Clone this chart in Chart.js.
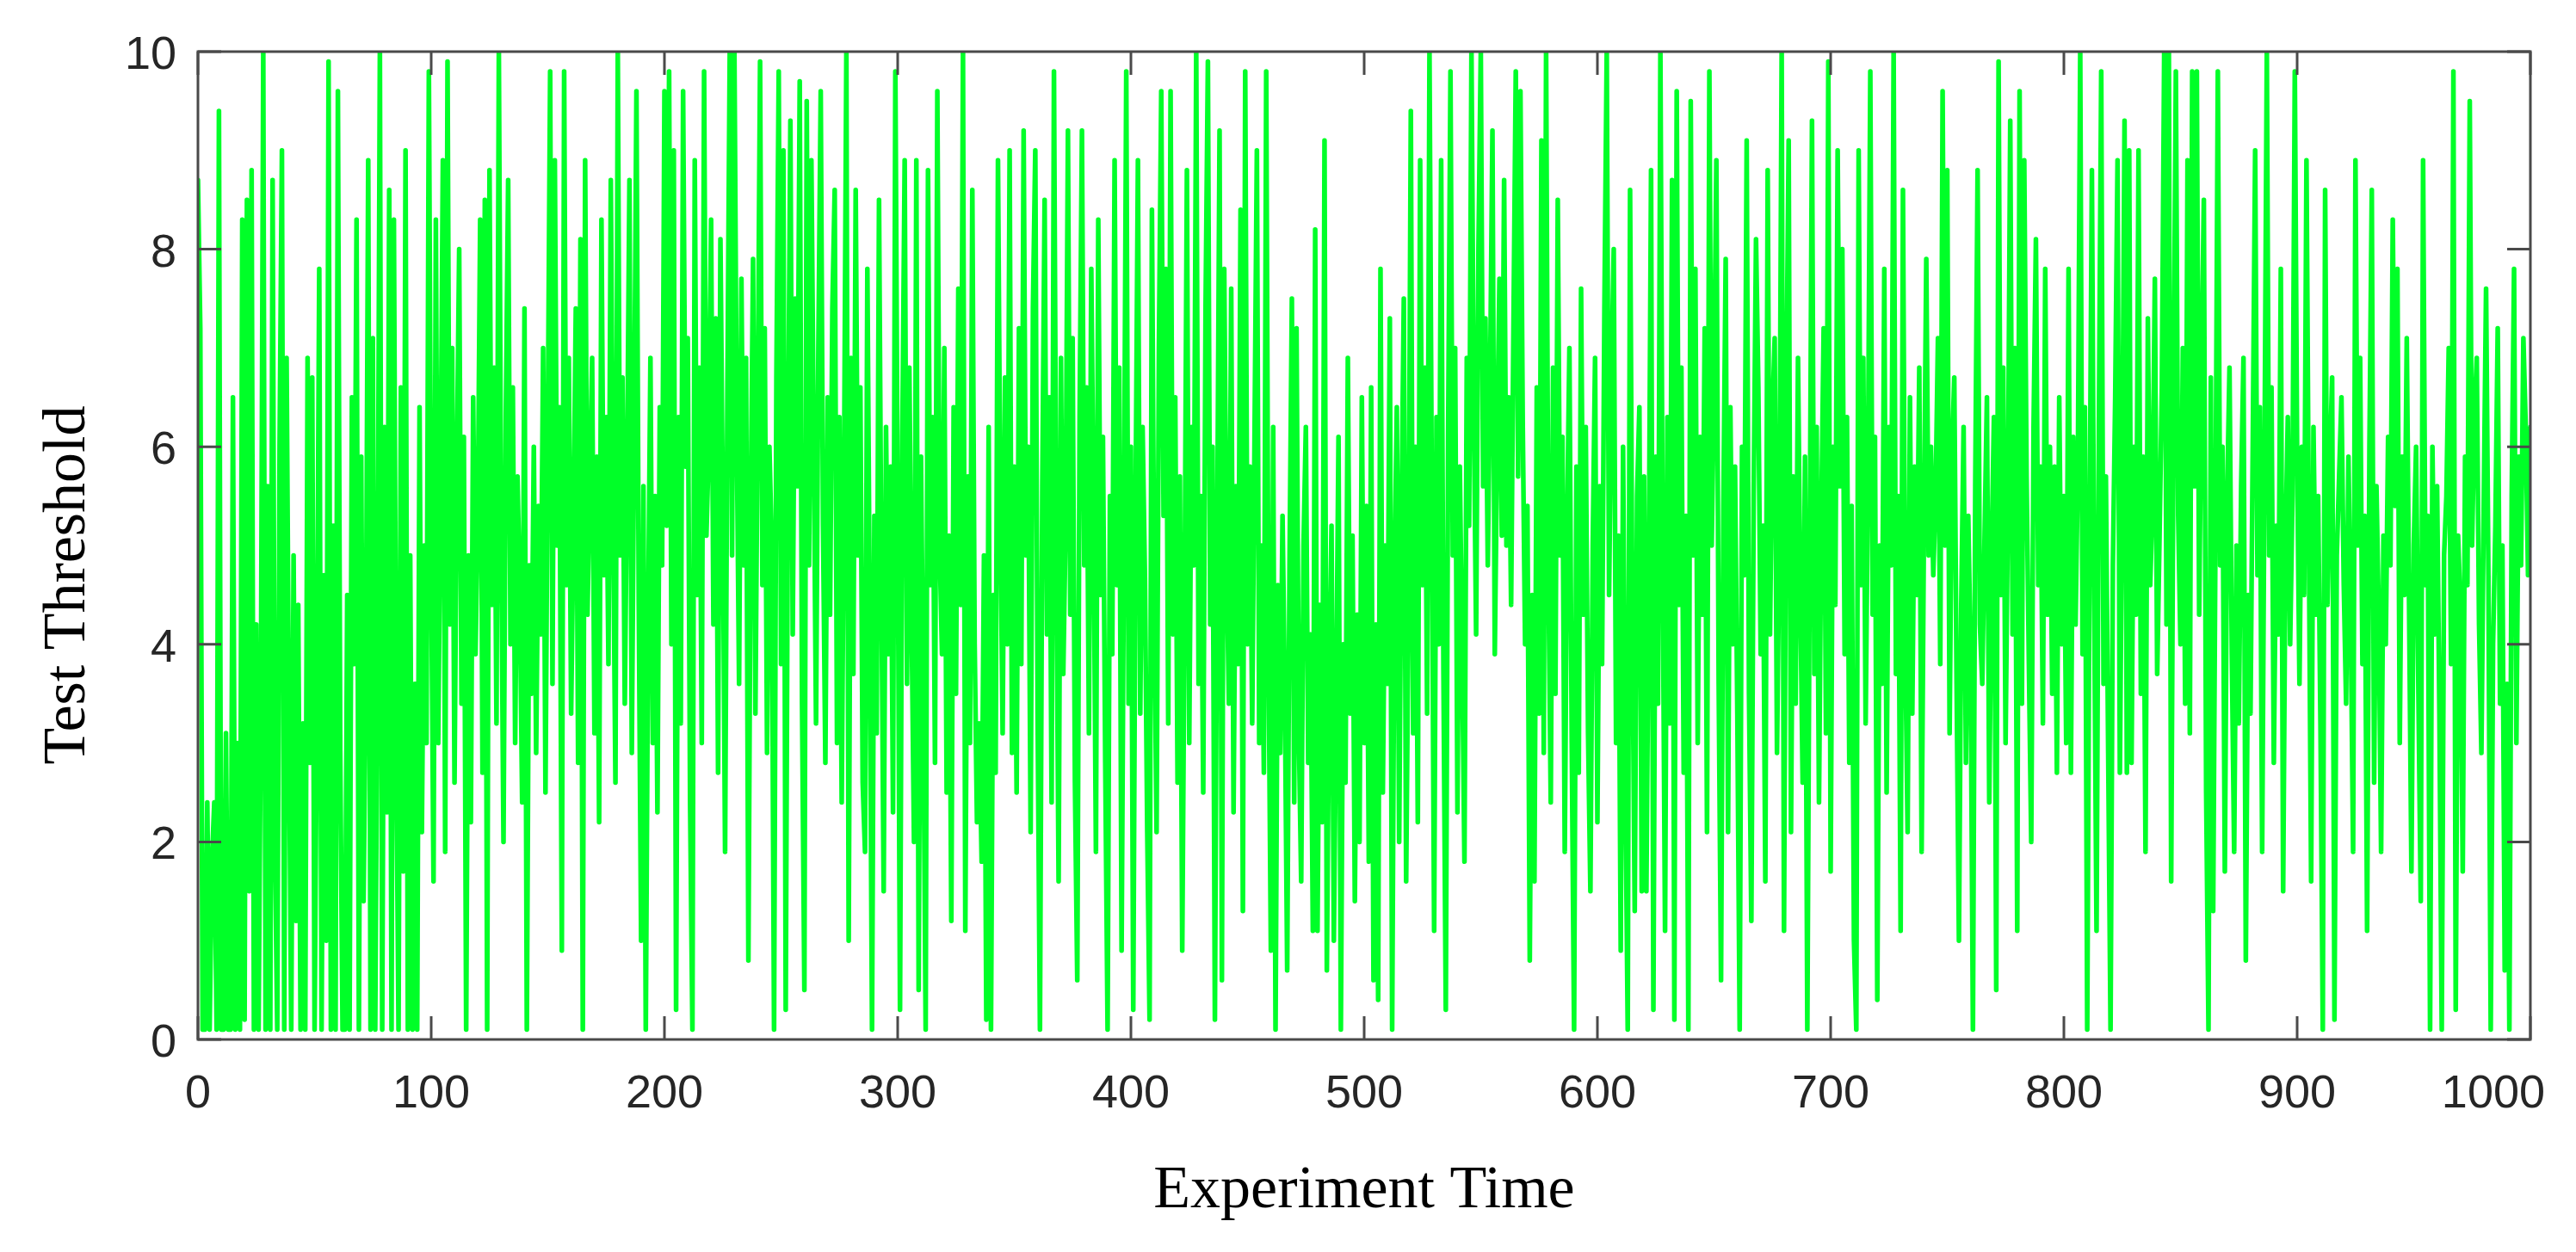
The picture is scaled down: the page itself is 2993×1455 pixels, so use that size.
<!DOCTYPE html>
<html>
<head>
<meta charset="utf-8">
<script src="https://cdn.jsdelivr.net/npm/chart.js@4.4.1/dist/chart.umd.min.js"></script>
<style>
html,body{margin:0;padding:0;background:#fff;}
canvas{display:block;}
</style>
</head>
<body>
<canvas id="c" width="2993" height="1455"></canvas>
<script>
const xTitle = "Experiment Time";
const yTitle = "Test Threshold";
const xTicks = [0,100,200,300,400,500,600,700,800,900,1000];
const yTicks = [0,2,4,6,8,10];

const thr000 = [8.7,7.2,0.1,0.1,2.4,0.1,1.8,2.4,0.1,9.4,
0.1,0.1,3.1,0.1,0.1,6.5,0.1,3.0,0.1,8.3,
0.2,8.5,1.5,8.8,0.1,4.2,0.1,3.5,10,0.1,
5.6,0.1,8.7,2.0,0.1,6.0,9.0,0.1,6.9,3.3,
0.1,4.9,1.2,4.4,0.1,3.2,0.1,6.9,2.8,6.7,
0.1,3.4,7.8,0.1,4.7,1.0,9.9,0.1,5.2,0.1,
9.6,2.9,0.1,0.1,4.5,0.1,6.5,3.8,8.3,0.1,
5.9,1.4,3.7,8.9,0.1,7.1,0.1,4.0,10,0.1,
6.2,2.3,8.6,0.1,8.3,3.1,0.1,6.6,1.7,9.0,
0.1,4.9,0.1,3.6,0.1,6.4,2.1,5.0,3.0,9.8];

const thr100 = [4.8,1.6,8.3,3.0,5.5,8.9,1.9,9.9,4.2,7.0,
2.6,5.8,8.0,3.4,6.1,0.1,4.9,2.2,6.5,3.9,
5.3,8.3,2.7,8.5,0.1,8.8,4.4,6.8,3.2,10,
5.1,2.0,6.3,8.7,4.0,6.6,3.0,5.7,4.5,2.4,
7.4,0.1,4.8,3.5,6.0,2.9,5.4,4.1,7.0,2.5,
6.2,9.8,3.6,8.9,5.0,6.4,0.9,9.8,4.6,6.9,
3.3,5.2,7.4,2.8,8.1,0.1,8.9,4.3,5.6,6.9,
3.1,5.9,2.2,8.3,4.7,6.3,3.8,8.7,5.3,2.6,
10,4.9,6.7,3.4,5.8,8.7,2.9,6.1,9.6,4.4,
1.0,5.6,0.1,4.2,6.9,3.0,5.5,2.3,6.4,4.8];

const thr200 = [9.6,5.2,9.8,4.0,9.0,0.3,6.3,3.2,9.6,5.8,
7.1,2.4,0.1,8.9,4.5,6.8,3.0,9.8,5.1,6.0,
8.3,4.2,7.3,2.7,8.1,5.5,1.9,6.6,10,4.9,
10,6.2,3.6,7.7,4.8,6.9,0.8,5.4,7.9,3.3,
6.4,9.9,4.6,7.2,2.9,6.0,5.0,0.1,6.7,9.8,
3.8,9.0,0.3,5.9,9.3,4.1,7.5,5.6,9.7,3.4,
0.5,9.5,4.8,8.9,6.1,3.2,7.0,9.6,5.2,2.8,
6.5,4.3,7.4,8.6,3.0,6.3,2.4,5.7,10,1.0,
6.9,3.7,8.6,4.9,6.6,2.6,1.9,7.8,4.4,0.1,
5.3,3.1,8.5,4.7,1.5,6.2,3.9,5.8,2.3,9.8];

const thr300 = [5.5,0.3,6.1,8.9,3.6,6.8,4.2,2.0,8.9,0.5,
5.9,3.4,0.1,8.8,4.6,6.3,2.8,9.6,5.0,3.9,
7.0,2.5,5.1,1.2,6.4,3.5,7.6,4.4,10,1.1,
5.7,3.0,8.6,4.0,2.2,3.2,1.8,4.9,0.2,6.2,
0.1,4.5,2.7,8.9,5.4,3.1,6.7,4.0,9.0,2.9,
5.8,2.5,7.2,3.8,9.2,4.9,6.0,2.1,7.4,9.0,
3.3,0.1,5.6,8.5,4.1,6.5,2.4,9.8,5.0,1.6,
6.9,3.7,5.2,9.2,4.3,7.1,2.6,0.6,6.3,9.2,
4.8,6.6,3.1,7.8,5.3,1.9,8.3,4.5,6.1,2.8,
0.1,5.5,3.9,8.9,4.6,6.8,0.9,5.0,9.8,3.4];

const thr400 = [6.0,0.3,5.4,8.9,3.3,6.2,4.7,2.1,0.2,8.4,
4.5,2.1,7.0,9.6,5.3,7.8,3.2,9.6,4.1,6.5,
2.6,5.7,0.9,4.4,8.8,3.0,6.2,4.8,10,3.6,
5.5,2.5,7.4,9.9,4.2,6.0,0.2,5.1,9.2,0.6,
7.8,4.9,3.4,7.6,2.3,5.6,3.8,8.4,1.3,9.8,
4.0,5.8,3.2,6.1,9.0,3.0,5.0,2.7,9.8,3.9,
0.9,6.2,0.1,4.6,2.9,5.3,3.5,0.7,4.8,7.5,
2.4,7.2,3.1,1.6,5.0,6.2,2.8,4.1,1.1,8.2,
1.1,4.4,2.2,9.1,0.7,3.6,5.2,1.0,3.4,6.1,
0.1,4.0,2.6,6.9,3.3,5.1,1.4,4.3,2.0,6.5];

const thr500 = [3.0,5.4,1.8,6.6,0.6,4.2,0.4,7.8,2.5,5.0,
3.6,7.3,0.1,4.7,6.4,2.0,5.3,7.5,1.6,4.4,
9.4,3.1,6.0,2.2,8.9,4.6,6.8,3.3,10,5.5,
1.1,6.3,4.0,8.9,3.7,0.3,6.1,9.8,4.9,7.0,
2.3,5.8,3.9,1.8,6.9,5.2,10,6.4,4.1,8.0,
10,5.6,7.3,4.8,6.7,9.2,3.9,6.0,7.7,5.1,
8.7,5.0,6.5,4.4,7.2,9.8,5.7,9.6,6.2,4.0,
5.4,0.8,4.5,1.6,6.6,3.3,9.1,2.9,10,4.7,
2.4,6.8,3.5,8.5,4.9,6.1,1.9,5.2,7.0,3.0,
0.1,5.8,2.7,7.6,4.3,6.2,3.1,1.5,5.0,6.9];

const thr600 = [2.2,5.6,3.8,7.4,10,4.5,6.7,8.0,3.0,5.1,
0.9,6.0,2.6,0.1,8.6,4.2,1.3,5.5,6.4,1.5,
5.7,1.5,4.6,8.8,0.3,5.9,3.4,10,4.8,1.1,
6.3,3.2,8.7,0.2,9.6,4.4,6.8,2.7,5.3,0.1,
9.5,4.9,7.8,3.0,6.1,4.3,7.2,2.1,9.8,5.0,
6.6,8.9,3.6,0.6,5.4,7.9,2.1,6.4,4.0,5.8,
3.3,0.1,6.0,4.7,9.1,3.5,1.2,5.5,8.1,6.6,
3.9,5.2,1.6,8.8,4.1,6.3,7.1,2.9,5.0,10,
1.1,6.5,9.1,2.1,5.7,3.4,6.9,4.5,2.6,5.9,
0.1,4.8,9.3,3.7,6.2,2.4,5.3,7.2,3.1,9.9];

const thr700 = [1.7,6.0,4.4,9.0,5.6,8.0,3.9,6.3,2.8,5.4,
1.0,0.1,9.0,4.6,6.9,3.2,5.7,9.8,4.3,6.1,
0.4,5.0,3.6,7.8,2.5,6.2,4.8,10,3.7,5.5,
1.1,8.6,4.0,2.1,6.5,3.3,5.8,4.5,6.8,1.9,
5.2,7.9,4.9,6.0,4.7,5.5,7.1,3.8,9.6,5.0,
8.8,3.1,5.9,6.7,3.6,1.0,4.4,6.2,2.8,5.3,
3.9,0.1,5.6,8.8,4.2,3.6,5.1,6.5,2.4,4.9,
6.3,0.5,9.9,4.5,6.8,3.0,5.4,9.3,4.1,7.0,
1.1,9.6,3.4,8.9,5.7,3.8,2.0,6.2,8.1,4.6,
5.8,3.2,7.8,4.3,6.0,3.5,5.8,2.7,6.5,4.0];

const thr800 = [5.5,3.0,7.8,2.7,6.1,4.2,5.8,10,3.9,6.4,
0.1,5.0,8.8,4.4,1.1,6.2,9.8,3.6,5.7,2.9,
0.1,4.8,6.5,8.9,2.7,5.6,9.3,2.7,9.0,2.8,
6.0,4.3,9.0,3.5,5.9,1.9,7.3,4.6,5.4,7.7,
3.7,5.1,6.6,10,4.2,10,1.6,6.3,9.8,5.3,
4.0,7.0,3.4,8.9,3.1,9.8,5.6,9.8,4.3,6.8,
8.5,2.5,0.1,6.7,1.3,5.2,9.8,4.8,6.0,1.7,
5.5,6.8,3.9,1.9,5.0,3.2,5.6,6.9,0.8,4.5,
3.3,6.1,9.0,4.7,6.4,1.9,5.8,10,4.9,6.6,
2.8,5.2,4.1,7.8,1.5,5.0,6.3,4.0,5.5,9.8];

const thr900 = [5.9,3.6,6.0,4.5,8.9,5.2,1.6,6.2,4.3,5.5,
3.2,0.1,8.6,4.4,5.8,6.7,0.2,4.9,5.7,6.5,
4.6,3.4,5.9,4.2,1.9,8.9,5.0,6.9,3.8,5.3,
1.1,6.0,8.6,2.6,5.6,4.3,1.9,5.1,4.0,6.1,
4.8,8.3,5.4,7.8,3.0,5.9,4.5,7.1,4.4,1.7,
5.0,6.0,3.5,1.4,8.9,4.6,5.3,0.1,6.0,4.1,
5.6,3.3,0.1,4.9,5.5,7.0,3.8,9.8,0.3,5.1,
4.4,1.7,5.9,4.6,9.5,5.0,6.3,6.9,4.2,2.9,
5.4,7.6,4.7,0.1,4.0,5.2,7.2,3.4,5.0,0.7,
3.6,0.1,5.5,7.8,3.0,5.9,4.8,7.1,6.2,4.7,
6.2];

const thresholds = [].concat(thr000,thr100,thr200,thr300,thr400,thr500,thr600,thr700,thr800,thr900);
const times = thresholds.map((_, i) => i);

const AREA = {left:230, right:2940, top:60, bottom:1208};
const TICK_LEN = 27;
const AXIS_COLOR = '#4a4a4a';
const LABEL_COLOR = '#262626';
const LABEL_FONT = '54px "Liberation Sans", Arial, sans-serif';
const TITLE_FONT = '70px "Liberation Serif", "Times New Roman", serif';

const framePlugin = {
  id: 'frame',
  afterDatasetsDraw(chart) {
    const {ctx, chartArea: a, scales: {x, y}} = chart;
    ctx.save();
    ctx.strokeStyle = AXIS_COLOR;
    ctx.lineWidth = 3;
    ctx.strokeRect(a.left, a.top, a.right - a.left, a.bottom - a.top);
    ctx.beginPath();
    xTicks.forEach(v => {
      const px = x.getPixelForValue(v);
      ctx.moveTo(px, a.bottom); ctx.lineTo(px, a.bottom - TICK_LEN);
      ctx.moveTo(px, a.top); ctx.lineTo(px, a.top + TICK_LEN);
    });
    yTicks.forEach(v => {
      const py = y.getPixelForValue(v);
      ctx.moveTo(a.left, py); ctx.lineTo(a.left + TICK_LEN, py);
      ctx.moveTo(a.right, py); ctx.lineTo(a.right - TICK_LEN, py);
    });
    ctx.stroke();

    ctx.fillStyle = LABEL_COLOR;
    ctx.font = LABEL_FONT;
    ctx.textBaseline = 'alphabetic';
    ctx.textAlign = 'center';
    const W = chart.width;
    xTicks.forEach(v => {
      const px = x.getPixelForValue(v);
      const t = String(v);
      const w = ctx.measureText(t).width;
      const cx = Math.min(px, W - 36 - w / 2);
      ctx.fillText(t, cx, a.bottom + 79);
    });
    ctx.textAlign = 'right';
    yTicks.forEach(v => {
      const py = y.getPixelForValue(v);
      ctx.fillText(String(v), a.left - 25, py + 20);
    });

    ctx.fillStyle = '#000';
    ctx.font = TITLE_FONT;
    ctx.textAlign = 'center';
    ctx.textBaseline = 'middle';
    ctx.fillText(xTitle, (a.left + a.right) / 2, 1385);
    ctx.translate(80, (a.top + a.bottom) / 2 + 46);
    ctx.rotate(-Math.PI / 2);
    ctx.fillText(yTitle, 0, 0);
    ctx.restore();
  }
};

new Chart(document.getElementById('c'), {
  type: 'line',
  data: {
    datasets: [{
      data: thresholds.map((v, i) => ({x: times[i], y: v})),
      borderColor: 'rgb(0,255,40)',
      borderWidth: 5.5,
      pointRadius: 0,
      tension: 0,
      borderJoinStyle: 'round',
      borderCapStyle: 'round',
      fill: false
    }]
  },
  options: {
    responsive: false,
    devicePixelRatio: 1,
    animation: false,
    events: [],
    layout: {padding: {left: 0, top: AREA.top, right: 2993 - AREA.right, bottom: 0}},
    plugins: {legend: {display: false}, tooltip: {enabled: false}},
    scales: {
      x: {
        type: 'linear', min: 0, max: 1000,
        grid: {display: false}, border: {display: false},
        ticks: {display: false},
        afterFit(s) { s.height = 1455 - AREA.bottom; }
      },
      y: {
        type: 'linear', min: 0, max: 10,
        grid: {display: false}, border: {display: false},
        ticks: {display: false},
        afterFit(s) { s.width = AREA.left; }
      }
    }
  },
  plugins: [framePlugin]
});
</script>
</body>
</html>
